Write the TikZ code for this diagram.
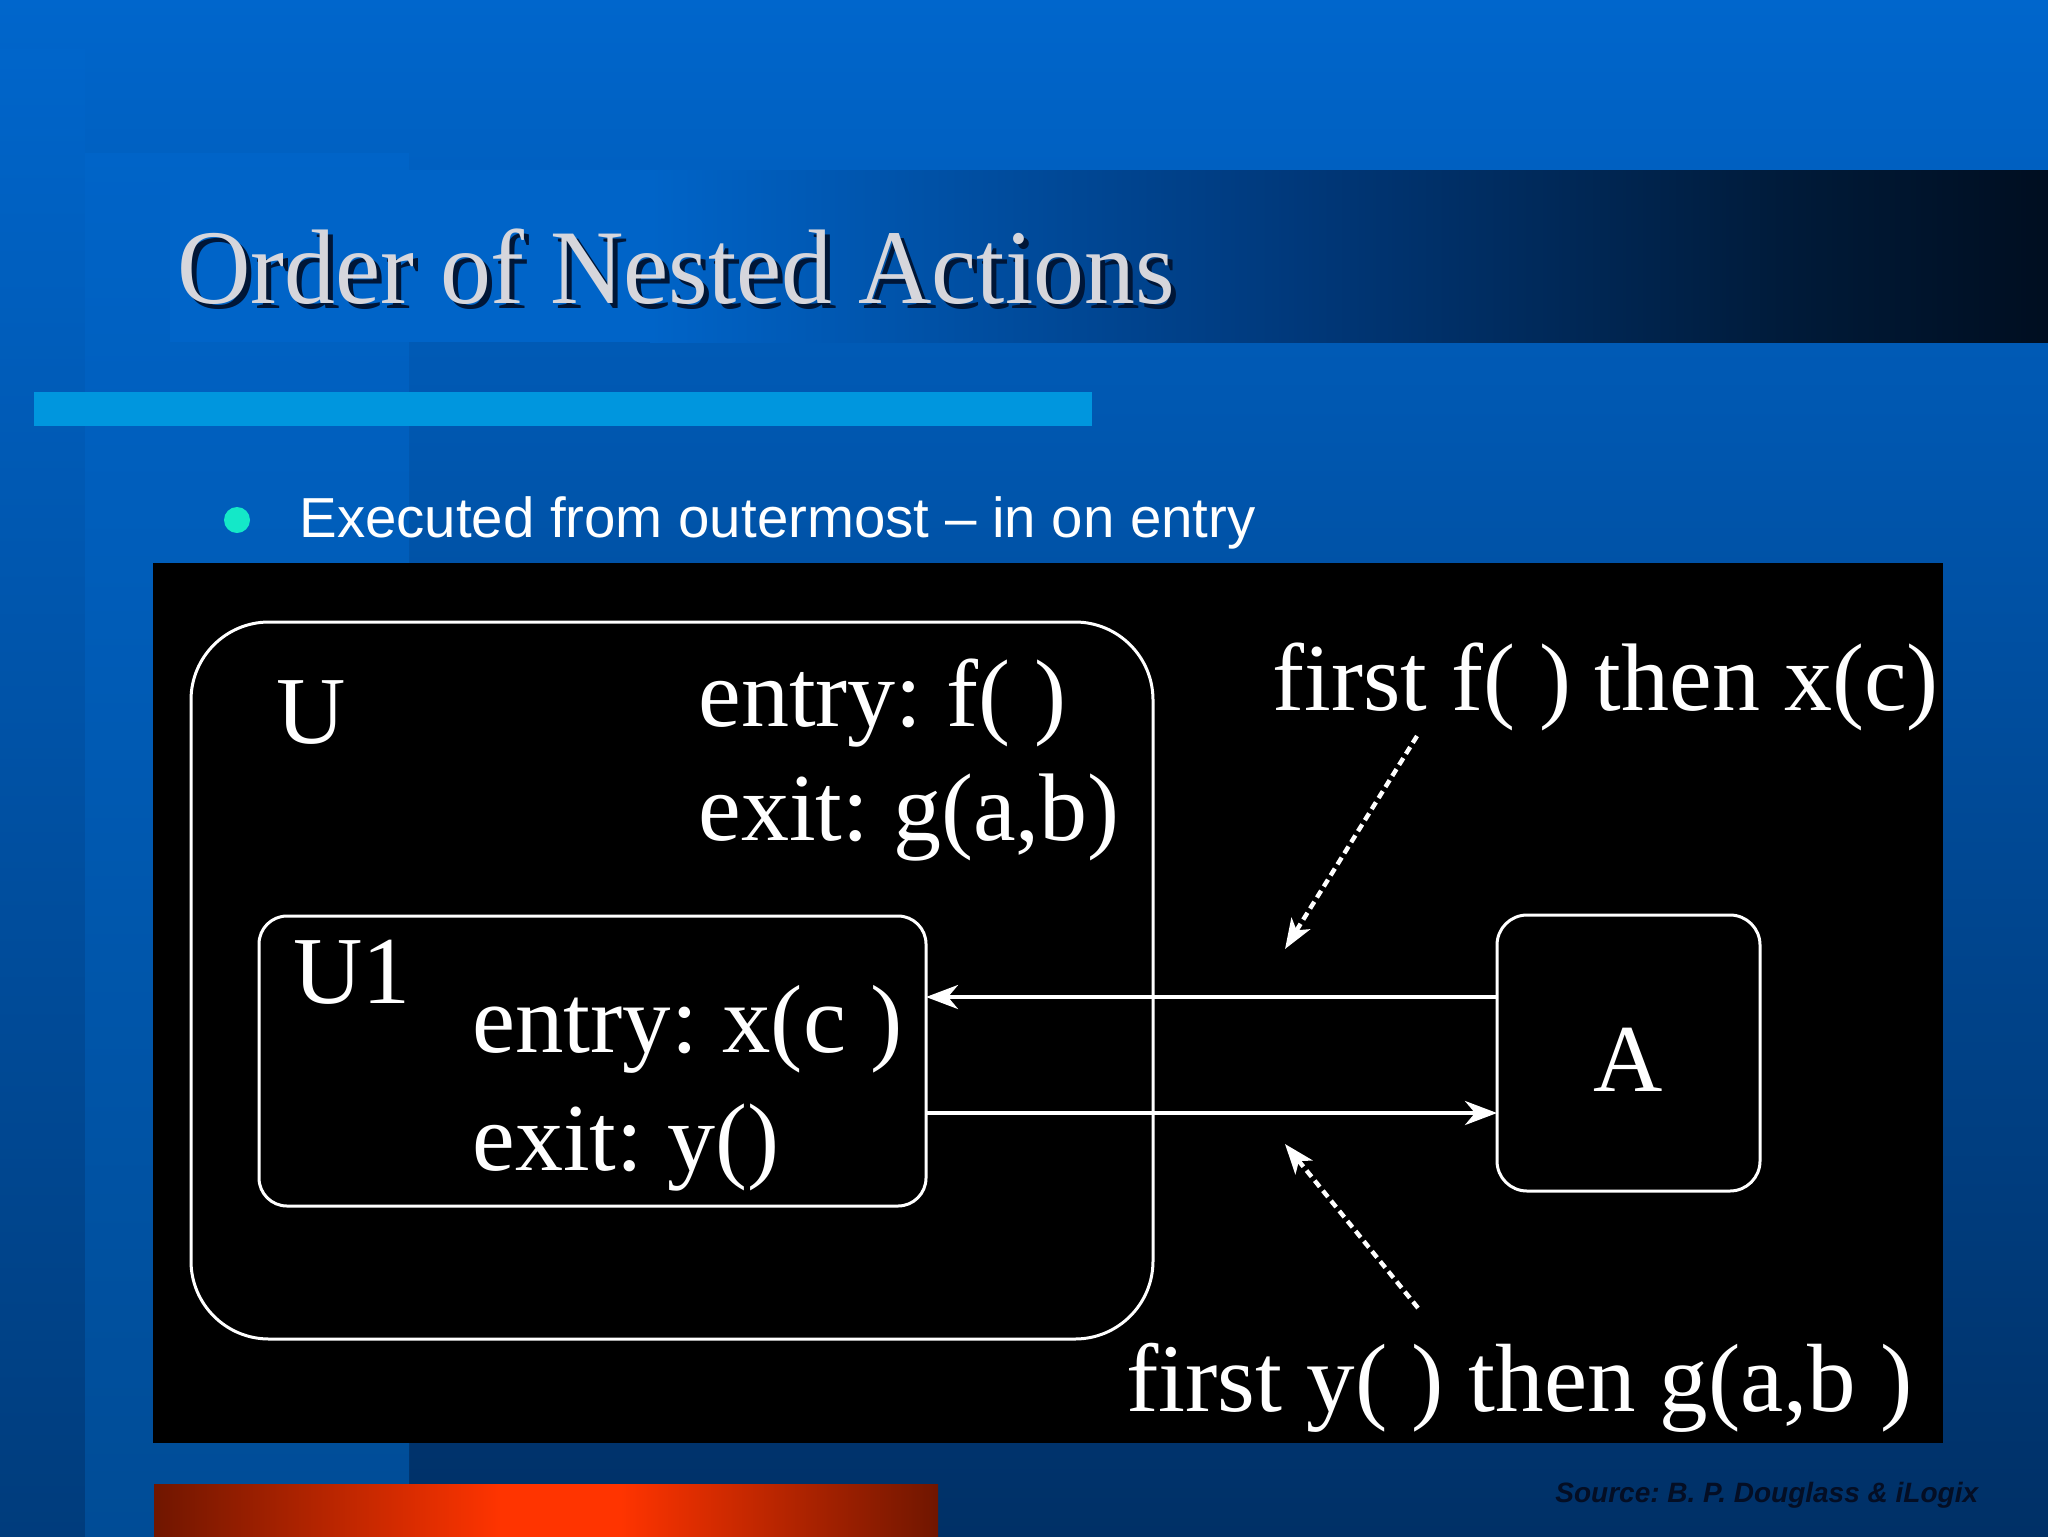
\documentclass[tikz,border=0pt]{standalone}
\usepackage{fontspec}
\setmainfont{Liberation Serif}
\newfontfamily\titlefont[FakeStretch=0.96]{Liberation Serif}
\newfontfamily\bodysans{Liberation Sans}
\usetikzlibrary{arrows.meta,calc}
\frenchspacing
\definecolor{bgtop}{RGB}{0,102,204}
\definecolor{bgmid}{RGB}{0,88,180}
\definecolor{bgbot}{RGB}{0,48,102}
\definecolor{bandtop}{RGB}{0,100,200}
\definecolor{striptop}{RGB}{0,101,202}
\definecolor{bandbot}{RGB}{0,76,150}
\definecolor{stripbot}{RGB}{0,60,124}
\definecolor{tbA}{RGB}{0,100,200}
\definecolor{tbB}{RGB}{0,56,122}
\definecolor{tbC}{RGB}{0,26,56}
\definecolor{tbD}{RGB}{0,14,32}
\definecolor{lightbar}{RGB}{0,150,222}
\definecolor{bulletc}{RGB}{20,232,200}
\definecolor{titlec}{RGB}{214,214,220}
\definecolor{shadowc}{RGB}{0,22,55}
\definecolor{redA}{RGB}{112,22,0}
\definecolor{redB}{RGB}{255,52,0}
\definecolor{srcc}{RGB}{4,14,36}
\tikzset{
  state/.style={draw=white, line width=1.5pt, fill=none, inner sep=0pt, outer sep=0pt},
  lbl/.style={anchor=base west, inner sep=0pt, text=white, font=\fontsize{48pt}{50pt}\selectfont},
  flow/.style={draw=white, line width=2pt, -{Stealth[length=16pt,width=12pt,inset=5pt]}},
  hint/.style={draw=white, line width=2.2pt, dash pattern=on 4pt off 2.5pt, -{Stealth[length=15pt,width=11pt,inset=4pt]}}
}
\newcommand{\titletext}{Order of Nested Actions}
\begin{document}
\begin{tikzpicture}[x=0.5pt,y=-0.5pt]
\useasboundingbox (0,0) rectangle (2048,1536);
% background
\shade[top color=bgtop, middle color=bgmid, bottom color=bgbot] (0,0) rectangle (2048,1540);
\shade[top color=striptop, bottom color=stripbot] (0,50) rectangle (85,1540);
\shade[top color=bandtop, bottom color=bandbot] (85,153) rectangle (409,1540);
% title band
\fill[tbA] (170,170) rectangle (651,342);
\shade[left color=tbA, right color=tbB] (650,170) rectangle (1301,342);
\shade[left color=tbB, right color=tbC] (1300,170) rectangle (1801,342);
\shade[left color=tbC, right color=tbD] (1800,170) rectangle (2052,342);
% title with drop shadow (one text)
\node[anchor=base west, inner sep=0pt, text=titlec, font=\titlefont\fontsize{53pt}{55pt}\selectfont] (title) at (177,303)
  {\rlap{\hspace{2.5pt}\raisebox{-2.5pt}{\textcolor{shadowc}{\titletext}}}\titletext};
% light bar
\fill[lightbar] (34,392) rectangle (1092,426);
% bullet
\fill[bulletc] (237,520) circle (6.5pt);
\node[anchor=base west, inner sep=0pt, text=white, font=\bodysans\fontsize{28.2pt}{30pt}\selectfont] (bullet) at (299,537) {Executed from outermost – in on entry};
% panel
\fill[black] (153,563) rectangle (1943,1443);
% states
\node[state, minimum width=481pt, minimum height=358.5pt, rounded corners=39pt] (U) at (672,980.5) {};
\node[state, minimum width=333.5pt, minimum height=145pt, rounded corners=14pt] (U1) at (592.5,1061) {};
\node[state, minimum width=131.5pt, minimum height=138pt, rounded corners=15pt] (A) at (1628.5,1053) {};
% state labels
\node[lbl] (Ulbl) at (276,743) {U};
\node[lbl] (Uentry) at (698,726) {entry: f( )};
\node[lbl] (Uexit) at (698,840) {exit: g(a,b)};
\node[lbl] (U1lbl) at (293,1003) {U1};
\node[lbl, font=\fontsize{48.4pt}{50pt}\selectfont] (U1entry) at (472,1052) {entry: x(c )};
\node[lbl] (U1exit) at (472,1170) {exit: y()};
\node[lbl, anchor=base] (Albl) at (1628,1091) {A};
% transitions
\path (A.west) ++(0,-56) coordinate (inA);
\draw[flow] (inA) -- (inA -| U1.east);
\path (A.west) ++(0,60) coordinate (outA);
\draw[flow] (outA -| U1.east) -- (outA);
% hint arrows
\coordinate (h1s) at (1417,736);
\coordinate (h1e) at (1285,949);
\draw[hint] (h1s) -- (h1e);
\coordinate (h2s) at (1418,1308);
\coordinate (h2e) at (1285,1144);
\draw[hint] (h2s) -- (h2e);
% transition texts
\begin{scope}
\clip (153,563) rectangle (1943,1443);
\node[lbl] (firstf) at (1272,710) {first f( ) then x(c)};
\end{scope}
\node[lbl, font=\fontsize{48.5pt}{50pt}\selectfont] (firsty) at (1126,1411) {first y( ) then g(a,b )};
% red bar
\shade[left color=redA, right color=redB] (154,1484) rectangle (501,1540);
\fill[redB] (500,1484) rectangle (621,1540);
\shade[left color=redB, right color=redA] (620,1484) rectangle (938,1540);
% source
\node[anchor=base west, inner sep=0pt, text=srcc, font=\bodysans\bfseries\itshape\fontsize{14pt}{16pt}\selectfont] (src) at (1555,1502) {Source: B. P. Douglass \& iLogix};
\end{tikzpicture}
\end{document}
